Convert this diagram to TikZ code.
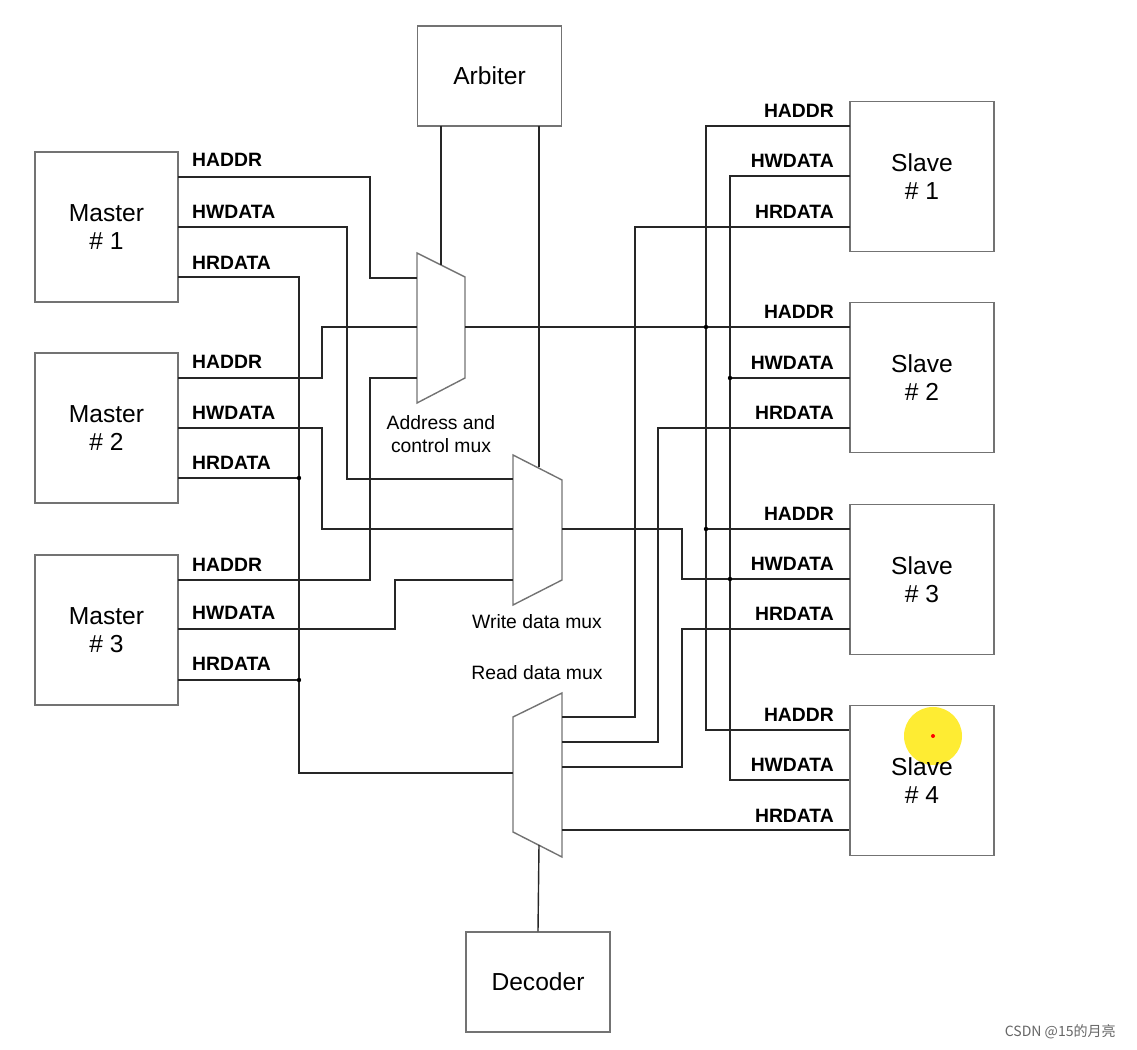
\documentclass[tikz,border=0pt]{standalone}
\usepackage{fontspec}
\setmainfont{Liberation Sans}
\newfontfamily\cjk{Noto Sans CJK SC}
\begin{document}
\begin{tikzpicture}[x=0.02cm,y=-0.02cm,
  box/.style={draw=black!55,line width=0.8pt,fill=white},
  wire/.style={draw=black!85,line width=0.8pt},
  mux/.style={draw=black!55,line width=0.8pt},
  lbl/.style={font=\bfseries\fontsize{11}{13}\selectfont},
  big/.style={font=\fontsize{14}{16}\selectfont,align=center},
  captxt/.style={font=\fontsize{11}{13}\selectfont,align=center},
  dot/.style={circle,fill=black,inner sep=0pt,minimum size=2.5pt}]
\useasboundingbox (0,0) rectangle (1137,1050);
% boxes
\node[box,minimum width=2.86cm,minimum height=3cm,big] (m1) at (106.5,227) {Master\\\# 1};
\node[box,minimum width=2.86cm,minimum height=3cm,big] (m2) at (106.5,428) {Master\\\# 2};
\node[box,minimum width=2.86cm,minimum height=3cm,big] (m3) at (106.5,630) {Master\\\# 3};
\node[box,minimum width=2.88cm,minimum height=3cm,big] (s1) at (922,176.5) {Slave\\\# 1};
\node[box,minimum width=2.88cm,minimum height=3cm,big] (s2) at (922,377.5) {Slave\\\# 2};
\node[box,minimum width=2.88cm,minimum height=3cm,big] (s3) at (922,579.5) {Slave\\\# 3};
\node[box,minimum width=2.88cm,minimum height=2cm,big] (arb) at (489.5,76) {Arbiter};
\node[box,minimum width=2.88cm,minimum height=2cm,big] (dec) at (538,982) {Decoder};
% muxes
\draw[mux] (417,253) coordinate (am) -- (465,277) -- (465,378) -- (417,403) -- cycle;
\draw[mux] (513,455) -- (562,480) -- (562,580) -- (513,605) -- cycle;
\draw[mux] (513,717) -- (562,693) -- (562,857) -- (513,832) -- cycle;
\coordinate (amo) at (465,327);
\coordinate (wmo) at (562,529);
\coordinate (rmo) at (513,773);
% arbiter / decoder lines
\draw[wire] (441,126) -- (441,265);
\draw[wire] (539,126) -- (539,467);
\draw[wire] (539,845) -- (dec.north);
% master -> address mux
\draw[wire] (178,177) -- (370,177) -- (370,278) -- (417,278);
\draw[wire] (178,378) -- (322,378) -- (322,327) -- (417,327);
\draw[wire] (178,580) -- (370,580) -- (370,378) -- (417,378);
% master -> write mux
\draw[wire] (178,227) -- (347,227) -- (347,479) -- (513,479);
\draw[wire] (178,428) -- (322,428) -- (322,529) -- (513,529);
\draw[wire] (178,629) -- (395,629) -- (395,580) -- (513,580);
% HRDATA bus
\draw[wire] (178,277) -- (299,277) -- (299,773) -- (rmo);
\draw[wire] (178,478) -- (299,478);
\draw[wire] (178,680) -- (299,680);
\node[dot] at (299,478) {}; \node[dot] at (299,680) {};
% address bus
\draw[wire] (amo) -- (850,327);
\draw[wire] (850,126) -- (706,126) -- (706,730) -- (850,730);
\draw[wire] (706,529) -- (850,529);
\node[dot] at (706,327) {}; \node[dot] at (706,529) {};
% write bus
\draw[wire] (wmo) -- (682,529) -- (682,579) -- (850,579);
\draw[wire] (850,176) -- (730,176) -- (730,780) -- (850,780);
\draw[wire] (730,378) -- (850,378);
\node[dot] at (730,378) {}; \node[dot] at (730,579) {};
% read bus
\draw[wire] (850,227) -- (635,227) -- (635,717) -- (562,717);
\draw[wire] (850,428) -- (658,428) -- (658,742) -- (562,742);
\draw[wire] (850,629) -- (682,629) -- (682,767) -- (562,767);
\draw[wire] (850,830) -- (562,830);
% slave 4
\node[box,minimum width=2.88cm,minimum height=3cm,big] (s4) at (922,780.5) {};
\fill[yellow!90!orange!80] (933,736) circle (29);
\fill[red] (933,736) circle (2);
\node[big] at (922,780.5) {Slave\\\# 4};
% labels
\foreach \y/\t in {160/HADDR,212/HWDATA,263/HRDATA,362/HADDR,413/HWDATA,463/HRDATA,565/HADDR,613/HWDATA,664/HRDATA}
  \node[lbl,anchor=west] at (186,\y) {\t};
\foreach \y/\t in {111/HADDR,161/HWDATA,212/HRDATA,312/HADDR,363/HWDATA,413/HRDATA,514/HADDR,564/HWDATA,614/HRDATA,715/HADDR,765/HWDATA,816/HRDATA}
  \node[lbl,anchor=east] at (840,\y) {\t};
% captions
\node[captxt] at (441,434) {Address and\\control mux};
\node[captxt] at (537,622) {Write data mux};
\node[captxt] at (537,673) {Read data mux};
\node[font=\cjk\fontsize{8}{9}\selectfont,text=black!60,anchor=east] at (1122,1032) {CSDN @15的月亮};
\end{tikzpicture}
\end{document}
